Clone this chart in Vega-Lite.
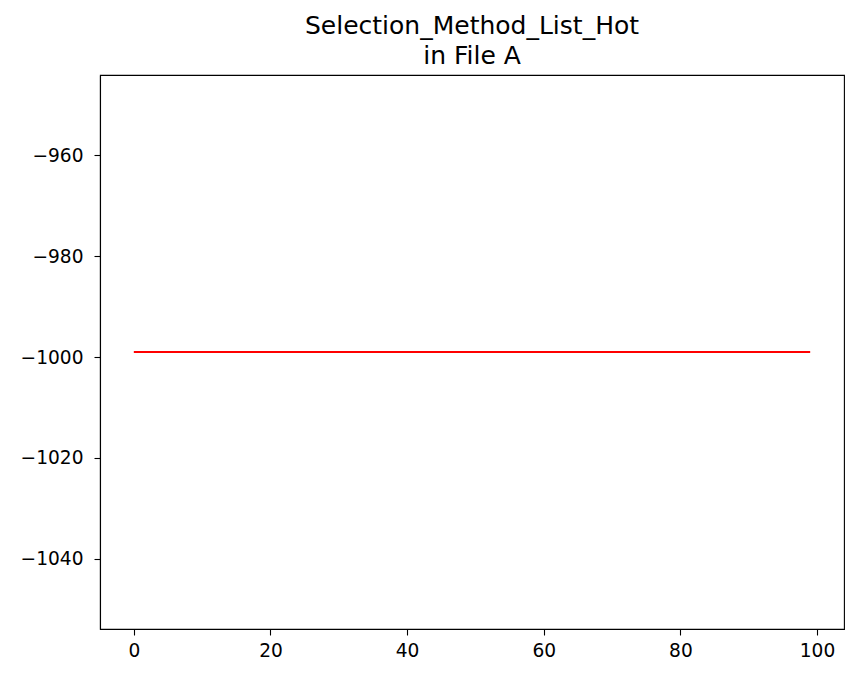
{
  "$schema": "https://vega.github.io/schema/vega-lite/v6.json",
  "autosize": "none",
  "width": 744,
  "height": 554,
  "padding": {"left": 100, "top": 75, "right": 15, "bottom": 50},
  "background": "white",
  "title": {
    "text": ["Selection_Method_List_Hot", "in File A"],
    "fontSize": 25,
    "font": "DejaVu Sans",
    "fontWeight": "normal",
    "color": "black",
    "lineHeight": 30,
    "offset": 6,
    "anchor": "middle"
  },
  "config": {
    "view": {"stroke": "black", "strokeWidth": 1.1},
    "axis": {
      "grid": false,
      "domainColor": "black",
      "domainWidth": 1.1,
      "tickColor": "black",
      "tickWidth": 1.1,
      "tickSize": 6,
      "labelFont": "DejaVu Sans",
      "labelFontSize": 18.6,
      "labelColor": "black",
      "title": null
    }
  },
  "data": {
    "values": [
      {"x": 0, "y": -999}, {"x": 1, "y": -999}, {"x": 2, "y": -999}, {"x": 3, "y": -999}, {"x": 4, "y": -999},
      {"x": 5, "y": -999}, {"x": 6, "y": -999}, {"x": 7, "y": -999}, {"x": 8, "y": -999}, {"x": 9, "y": -999},
      {"x": 10, "y": -999}, {"x": 11, "y": -999}, {"x": 12, "y": -999}, {"x": 13, "y": -999}, {"x": 14, "y": -999},
      {"x": 15, "y": -999}, {"x": 16, "y": -999}, {"x": 17, "y": -999}, {"x": 18, "y": -999}, {"x": 19, "y": -999},
      {"x": 20, "y": -999}, {"x": 21, "y": -999}, {"x": 22, "y": -999}, {"x": 23, "y": -999}, {"x": 24, "y": -999},
      {"x": 25, "y": -999}, {"x": 26, "y": -999}, {"x": 27, "y": -999}, {"x": 28, "y": -999}, {"x": 29, "y": -999},
      {"x": 30, "y": -999}, {"x": 31, "y": -999}, {"x": 32, "y": -999}, {"x": 33, "y": -999}, {"x": 34, "y": -999},
      {"x": 35, "y": -999}, {"x": 36, "y": -999}, {"x": 37, "y": -999}, {"x": 38, "y": -999}, {"x": 39, "y": -999},
      {"x": 40, "y": -999}, {"x": 41, "y": -999}, {"x": 42, "y": -999}, {"x": 43, "y": -999}, {"x": 44, "y": -999},
      {"x": 45, "y": -999}, {"x": 46, "y": -999}, {"x": 47, "y": -999}, {"x": 48, "y": -999}, {"x": 49, "y": -999},
      {"x": 50, "y": -999}, {"x": 51, "y": -999}, {"x": 52, "y": -999}, {"x": 53, "y": -999}, {"x": 54, "y": -999},
      {"x": 55, "y": -999}, {"x": 56, "y": -999}, {"x": 57, "y": -999}, {"x": 58, "y": -999}, {"x": 59, "y": -999},
      {"x": 60, "y": -999}, {"x": 61, "y": -999}, {"x": 62, "y": -999}, {"x": 63, "y": -999}, {"x": 64, "y": -999},
      {"x": 65, "y": -999}, {"x": 66, "y": -999}, {"x": 67, "y": -999}, {"x": 68, "y": -999}, {"x": 69, "y": -999},
      {"x": 70, "y": -999}, {"x": 71, "y": -999}, {"x": 72, "y": -999}, {"x": 73, "y": -999}, {"x": 74, "y": -999},
      {"x": 75, "y": -999}, {"x": 76, "y": -999}, {"x": 77, "y": -999}, {"x": 78, "y": -999}, {"x": 79, "y": -999},
      {"x": 80, "y": -999}, {"x": 81, "y": -999}, {"x": 82, "y": -999}, {"x": 83, "y": -999}, {"x": 84, "y": -999},
      {"x": 85, "y": -999}, {"x": 86, "y": -999}, {"x": 87, "y": -999}, {"x": 88, "y": -999}, {"x": 89, "y": -999},
      {"x": 90, "y": -999}, {"x": 91, "y": -999}, {"x": 92, "y": -999}, {"x": 93, "y": -999}, {"x": 94, "y": -999},
      {"x": 95, "y": -999}, {"x": 96, "y": -999}, {"x": 97, "y": -999}, {"x": 98, "y": -999}, {"x": 99, "y": -999}
    ]
  },
  "mark": {"type": "line", "color": "#ff0000", "strokeWidth": 2.2},
  "encoding": {
    "x": {
      "field": "x",
      "type": "quantitative",
      "scale": {"domain": [-4.95, 103.95], "nice": false, "zero": false},
      "axis": {"values": [0, 20, 40, 60, 80, 100], "labelPadding": 6, "labelFlush": false}
    },
    "y": {
      "field": "y",
      "type": "quantitative",
      "scale": {"domain": [-1053.945, -944.055], "nice": false, "zero": false},
      "axis": {"values": [-1040, -1020, -1000, -980, -960], "labelPadding": 11, "format": "d", "labelFlush": false}
    }
  }
}
